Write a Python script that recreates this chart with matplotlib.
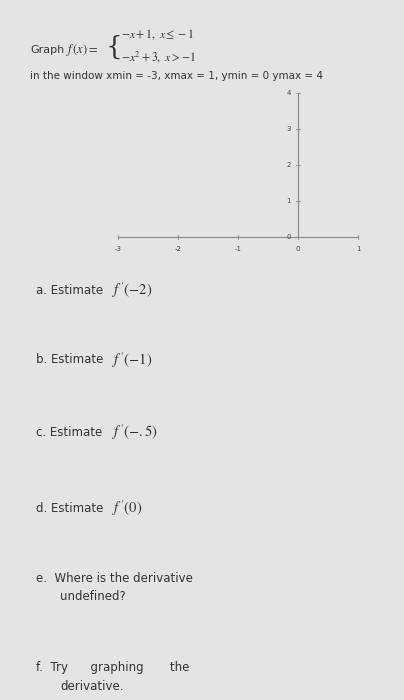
import matplotlib.pyplot as plt

plt.rcParams['mathtext.fontset'] = 'stix'

# window and ticks
xmin, xmax, ymin, ymax = -3, 1, 0, 4
x_ticks = [-3, -2, -1, 0, 1]
y_ticks = [0, 1, 2, 3, 4]

questions = [
    ("a. Estimate ", r"$f^{\,\prime}(-2)$", 290),
    ("b. Estimate ", r"$f^{\,\prime}(-1)$", 360),
    ("c. Estimate ", r"$f^{\,\prime}(-.5)$", 432),
    ("d. Estimate ", r"$f^{\,\prime}(0)$", 508),
]

bg = "#e4e4e2"
ink = "#333333"
fig = plt.figure(figsize=(4.04, 7.0), dpi=100, facecolor=bg)
W, H = 404, 700

def fx(px):
    return px / W

def fy(py):
    return 1 - py / H

# header text
fig.text(fx(30), fy(50), "Graph", fontsize=8, color=ink, va="center")
fig.text(fx(66), fy(50), r"$f\,(x)=$", fontsize=9, color=ink, va="center")
fig.text(fx(106), fy(47), "{", fontsize=19, color=ink, va="center", family="DejaVu Serif",
         fontweight="light")
fig.text(fx(121), fy(35), r"$-x+1,\ x\leq -1$", fontsize=8.5, color=ink, va="center")
fig.text(fx(121), fy(57), r"$-x^2+3,\ x>-1$", fontsize=8.5, color=ink, va="center")
fig.text(fx(30), fy(76), "in the window xmin = -3, xmax = 1, ymin = 0 ymax = 4",
         fontsize=7.5, color=ink, va="center")

# axes (empty coordinate grid)
ax = fig.add_axes([fx(118), fy(237), fx(240), 144 / H])
ax.set_facecolor(bg)
ax.set_xlim(xmin, xmax)
ax.set_ylim(ymin, ymax)
for s in ax.spines.values():
    s.set_visible(False)
ax.axhline(0, color="#888888", lw=0.8, clip_on=False)
ax.axvline(0, color="#888888", lw=0.8, clip_on=False)
ax.set_xticks([])
ax.set_yticks([])
for t in x_ticks:
    ax.plot([t, t], [-0.06, 0.06], color="#888888", lw=0.6, clip_on=False)
    ax.text(t, -0.25, str(t), fontsize=5, ha="center", va="top", color="#444444")
for t in y_ticks:
    ax.plot([-0.04, 0.04], [t, t], color="#888888", lw=0.6, clip_on=False)
    ax.text(-0.12, t, str(t), fontsize=5, ha="right", va="center", color="#444444")

# questions
for label, expr, py in questions:
    fig.text(fx(36), fy(py), label, fontsize=8.5, color=ink, va="center")
    fig.text(fx(111), fy(py), expr, fontsize=10.5, color=ink, va="center")

fig.text(fx(36), fy(578), "e.  Where is the derivative", fontsize=8.5, color=ink, va="center")
fig.text(fx(60), fy(597), "undefined?", fontsize=8.5, color=ink, va="center")
fig.text(fx(36), fy(667), "f.  Try      graphing       the", fontsize=8.5, color=ink, va="center")
fig.text(fx(60), fy(687), "derivative.", fontsize=8.5, color=ink, va="center")

fig.savefig("out.png", dpi=100, facecolor=bg)
